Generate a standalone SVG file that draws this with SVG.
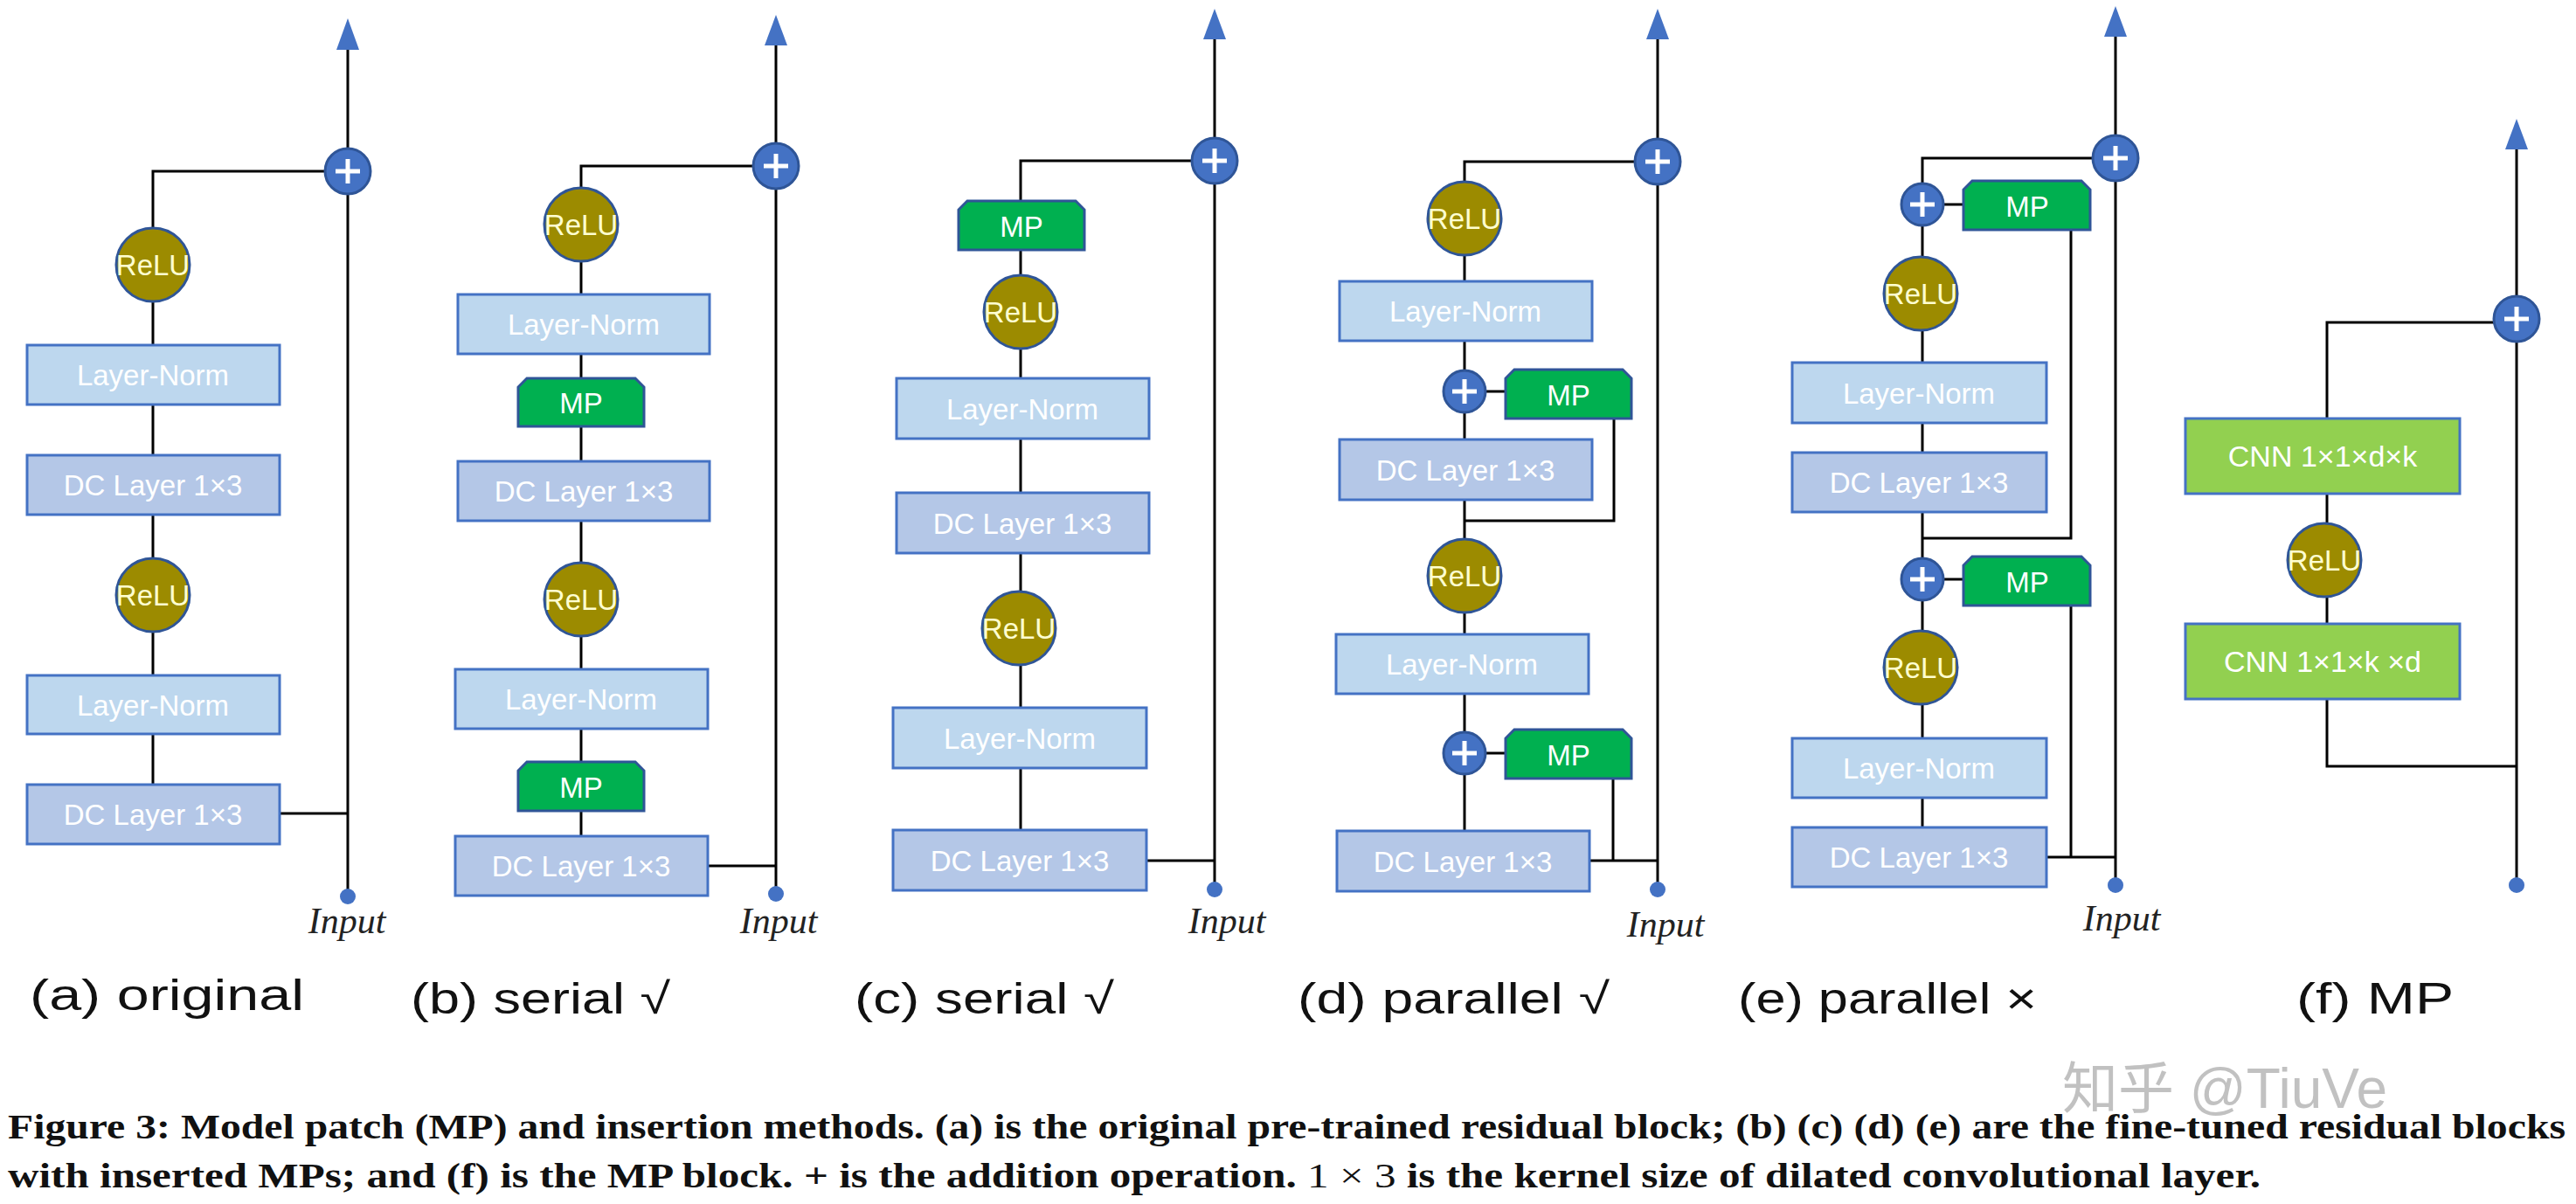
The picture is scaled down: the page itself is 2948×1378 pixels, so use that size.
<svg xmlns="http://www.w3.org/2000/svg" width="2948" height="1378" viewBox="0 0 2948 1378">
<style>
.ln{fill:#BDD7EE;stroke:#4472C4;stroke-width:3}
.dc{fill:#B4C7E7;stroke:#4472C4;stroke-width:3}
.cnn{fill:#92D050;stroke:#4472C4;stroke-width:3}
.mp{fill:#00B050;stroke:#2F5597;stroke-width:3}
.relu{fill:#9C8B00;stroke:#2F5597;stroke-width:3}
.plus{fill:#4472C4;stroke:#2F5597;stroke-width:3}
.pl{stroke:#fff;stroke-width:5;fill:none}
.w{stroke:#000;stroke-width:3;fill:none}
.ah{fill:#4472C4}
.t{font-family:"Liberation Sans",Arial,sans-serif;font-size:33px;fill:#fff;text-anchor:middle;dominant-baseline:central}
.rt{font-family:"Liberation Sans",Arial,sans-serif;font-size:33px;fill:#FFFFD0;text-anchor:middle;dominant-baseline:central}
.in{font-family:"Liberation Serif",serif;font-style:italic;font-size:42px;fill:#222;text-anchor:middle}
.sub{font-family:"Liberation Sans",sans-serif;font-size:50px;fill:#111}
.cap{font-family:"Liberation Serif",serif;font-weight:bold;font-size:40px;fill:#111}
</style>
<defs>
<g id="pg"><line class="pl" x1="-14" y1="0" x2="14" y2="0"/><line class="pl" x1="0" y1="-14" x2="0" y2="14"/></g>
</defs>
<g id="connectors">
<line class="w" x1="398" y1="1026" x2="398" y2="55"/><polyline class="w" points="175,898 175,196 398,196"/><line class="w" x1="320" y1="931" x2="398" y2="931"/>
<polygon class="ah" points="398,21 385,57 411,57"/><circle class="ah" cx="398" cy="1026" r="9"/>
<line class="w" x1="888" y1="1023" x2="888" y2="50"/><polyline class="w" points="665,957 665,190 888,190"/><line class="w" x1="810" y1="991" x2="888" y2="991"/>
<polygon class="ah" points="888,17 875,52 901,52"/><circle class="ah" cx="888" cy="1023" r="9"/>
<line class="w" x1="1390" y1="1018" x2="1390" y2="43"/><polyline class="w" points="1168,950 1168,184 1390,184"/><line class="w" x1="1312" y1="985" x2="1390" y2="985"/>
<polygon class="ah" points="1390,10 1377,45 1403,45"/><circle class="ah" cx="1390" cy="1018" r="9"/>
<line class="w" x1="1897" y1="1018" x2="1897" y2="43"/><polyline class="w" points="1676,951 1676,185 1897,185"/><line class="w" x1="1819" y1="985" x2="1897" y2="985"/>
<line class="w" x1="1676" y1="448" x2="1723" y2="448"/><polyline class="w" points="1847,479 1847,596 1676,596"/>
<line class="w" x1="1676" y1="862" x2="1723" y2="862"/><polyline class="w" points="1846,891 1846,985"/>
<polygon class="ah" points="1897,10 1884,45 1910,45"/><circle class="ah" cx="1897" cy="1018" r="9"/>
<line class="w" x1="2421" y1="1013" x2="2421" y2="40"/><polyline class="w" points="2200,947 2200,181 2421,181"/><line class="w" x1="2342" y1="981" x2="2421" y2="981"/>
<line class="w" x1="2200" y1="234" x2="2247" y2="234"/><polyline class="w" points="2370,263 2370,616 2200,616"/>
<line class="w" x1="2200" y1="663" x2="2247" y2="663"/><polyline class="w" points="2370,693 2370,981"/>
<polygon class="ah" points="2421,7 2408,42 2434,42"/><circle class="ah" cx="2421" cy="1013" r="9"/>
<line class="w" x1="2880" y1="1013" x2="2880" y2="169"/><polyline class="w" points="2663,479 2663,369 2880,369"/><polyline class="w" points="2663,800 2663,877 2880,877"/><line class="w" x1="2663" y1="565" x2="2663" y2="714"/>
<polygon class="ah" points="2880,136 2867,171 2893,171"/><circle class="ah" cx="2880" cy="1013" r="9"/>
</g>
<g id="a-plus"><circle class="plus" cx="398" cy="196" r="26"/><use href="#pg" x="398" y="196"/></g>
<g id="a-relu1"><circle class="relu" cx="175" cy="303" r="42"/><text class="rt" x="175" y="303">ReLU</text></g>
<g id="a-ln1"><rect class="ln" x="31" y="395" width="289" height="68"/><text class="t" x="175" y="429">Layer-Norm</text></g>
<g id="a-dc1"><rect class="dc" x="31" y="521" width="289" height="68"/><text class="t" x="175" y="555">DC Layer 1×3</text></g>
<g id="a-relu2"><circle class="relu" cx="175" cy="681" r="42"/><text class="rt" x="175" y="681">ReLU</text></g>
<g id="a-ln2"><rect class="ln" x="31" y="773" width="289" height="67"/><text class="t" x="175" y="807">Layer-Norm</text></g>
<g id="a-dc2"><rect class="dc" x="31" y="898" width="289" height="68"/><text class="t" x="175" y="932">DC Layer 1×3</text></g>
<g id="a-in"><text class="in" x="397" y="1068">Input</text></g>
<g id="b-plus"><circle class="plus" cx="888" cy="190" r="26"/><use href="#pg" x="888" y="190"/></g>
<g id="b-relu1"><circle class="relu" cx="665" cy="257" r="42"/><text class="rt" x="665" y="257">ReLU</text></g>
<g id="b-ln1"><rect class="ln" x="524" y="337" width="288" height="68"/><text class="t" x="668" y="371">Layer-Norm</text></g>
<g id="b-mp1"><path class="mp" d="M593,488 L593,443 L603,433 L727,433 L737,443 L737,488 Z"/><text class="t" x="665" y="461">MP</text></g>
<g id="b-dc1"><rect class="dc" x="524" y="528" width="288" height="68"/><text class="t" x="668" y="562">DC Layer 1×3</text></g>
<g id="b-relu2"><circle class="relu" cx="665" cy="686" r="42"/><text class="rt" x="665" y="686">ReLU</text></g>
<g id="b-ln2"><rect class="ln" x="521" y="766" width="289" height="68"/><text class="t" x="665" y="800">Layer-Norm</text></g>
<g id="b-mp2"><path class="mp" d="M593,928 L593,882 L603,872 L727,872 L737,882 L737,928 Z"/><text class="t" x="665" y="901">MP</text></g>
<g id="b-dc2"><rect class="dc" x="521" y="957" width="289" height="68"/><text class="t" x="665" y="991">DC Layer 1×3</text></g>
<g id="b-in"><text class="in" x="891" y="1068">Input</text></g>
<g id="c-plus"><circle class="plus" cx="1390" cy="184" r="26"/><use href="#pg" x="1390" y="184"/></g>
<g id="c-mp"><path class="mp" d="M1097,286 L1097,240 L1107,230 L1231,230 L1241,240 L1241,286 Z"/><text class="t" x="1169" y="259">MP</text></g>
<g id="c-relu1"><circle class="relu" cx="1168" cy="357" r="42"/><text class="rt" x="1168" y="357">ReLU</text></g>
<g id="c-ln1"><rect class="ln" x="1026" y="433" width="289" height="69"/><text class="t" x="1170" y="468">Layer-Norm</text></g>
<g id="c-dc1"><rect class="dc" x="1026" y="564" width="289" height="69"/><text class="t" x="1170" y="599">DC Layer 1×3</text></g>
<g id="c-relu2"><circle class="relu" cx="1166" cy="719" r="42"/><text class="rt" x="1166" y="719">ReLU</text></g>
<g id="c-ln2"><rect class="ln" x="1022" y="810" width="290" height="69"/><text class="t" x="1167" y="845">Layer-Norm</text></g>
<g id="c-dc2"><rect class="dc" x="1022" y="950" width="290" height="69"/><text class="t" x="1167" y="985">DC Layer 1×3</text></g>
<g id="c-in"><text class="in" x="1404" y="1068">Input</text></g>
<g id="d-plus"><circle class="plus" cx="1897" cy="185" r="26"/><use href="#pg" x="1897" y="185"/></g>
<g id="d-relu1"><circle class="relu" cx="1676" cy="250" r="42"/><text class="rt" x="1676" y="250">ReLU</text></g>
<g id="d-ln1"><rect class="ln" x="1533" y="322" width="289" height="68"/><text class="t" x="1677" y="356">Layer-Norm</text></g>
<g id="d-splus1"><circle class="plus" cx="1676" cy="448" r="24"/><use href="#pg" x="1676" y="448"/></g>
<g id="d-mp1"><path class="mp" d="M1723,479 L1723,433 L1733,423 L1857,423 L1867,433 L1867,479 Z"/><text class="t" x="1795" y="452">MP</text></g>
<g id="d-dc1"><rect class="dc" x="1533" y="503" width="289" height="69"/><text class="t" x="1677" y="538">DC Layer 1×3</text></g>
<g id="d-relu2"><circle class="relu" cx="1676" cy="659" r="42"/><text class="rt" x="1676" y="659">ReLU</text></g>
<g id="d-ln2"><rect class="ln" x="1529" y="726" width="289" height="68"/><text class="t" x="1673" y="760">Layer-Norm</text></g>
<g id="d-splus2"><circle class="plus" cx="1676" cy="862" r="24"/><use href="#pg" x="1676" y="862"/></g>
<g id="d-mp2"><path class="mp" d="M1723,891 L1723,845 L1733,835 L1857,835 L1867,845 L1867,891 Z"/><text class="t" x="1795" y="864">MP</text></g>
<g id="d-dc2"><rect class="dc" x="1530" y="951" width="289" height="69"/><text class="t" x="1674" y="986">DC Layer 1×3</text></g>
<g id="d-in"><text class="in" x="1906" y="1072">Input</text></g>
<g id="e-plus"><circle class="plus" cx="2421" cy="181" r="26"/><use href="#pg" x="2421" y="181"/></g>
<g id="e-splus1"><circle class="plus" cx="2200" cy="234" r="24"/><use href="#pg" x="2200" y="234"/></g>
<g id="e-mp1"><path class="mp" d="M2247,263 L2247,217 L2257,207 L2382,207 L2392,217 L2392,263 Z"/><text class="t" x="2320" y="236">MP</text></g>
<g id="e-relu1"><circle class="relu" cx="2198" cy="336" r="42"/><text class="rt" x="2198" y="336">ReLU</text></g>
<g id="e-ln1"><rect class="ln" x="2051" y="415" width="291" height="69"/><text class="t" x="2196" y="450">Layer-Norm</text></g>
<g id="e-dc1"><rect class="dc" x="2051" y="518" width="291" height="68"/><text class="t" x="2196" y="552">DC Layer 1×3</text></g>
<g id="e-splus2"><circle class="plus" cx="2200" cy="663" r="24"/><use href="#pg" x="2200" y="663"/></g>
<g id="e-mp2"><path class="mp" d="M2247,693 L2247,647 L2257,637 L2382,637 L2392,647 L2392,693 Z"/><text class="t" x="2320" y="666">MP</text></g>
<g id="e-relu2"><circle class="relu" cx="2198" cy="764" r="42"/><text class="rt" x="2198" y="764">ReLU</text></g>
<g id="e-ln2"><rect class="ln" x="2051" y="845" width="291" height="68"/><text class="t" x="2196" y="879">Layer-Norm</text></g>
<g id="e-dc2"><rect class="dc" x="2051" y="947" width="291" height="68"/><text class="t" x="2196" y="981">DC Layer 1×3</text></g>
<g id="e-in"><text class="in" x="2428" y="1065">Input</text></g>
<g id="f-plus"><circle class="plus" cx="2880" cy="365" r="26"/><use href="#pg" x="2880" y="365"/></g>
<g id="f-cnn1"><rect class="cnn" x="2501" y="479" width="314" height="86"/><text class="t" x="2658" y="522" style="font-size:34px">CNN 1×1×d×k</text></g>
<g id="f-relu"><circle class="relu" cx="2660" cy="641" r="42"/><text class="rt" x="2660" y="641">ReLU</text></g>
<g id="f-cnn2"><rect class="cnn" x="2501" y="714" width="314" height="86"/><text class="t" x="2658" y="757" style="font-size:34px">CNN 1×1×k ×d</text></g>
<g id="labels">
<text class="sub" x="34" y="1156" textLength="314" lengthAdjust="spacingAndGlyphs">(a) original</text>
<text class="sub" x="470" y="1160" textLength="297" lengthAdjust="spacingAndGlyphs">(b) serial √</text>
<text class="sub" x="978" y="1160" textLength="297" lengthAdjust="spacingAndGlyphs">(c) serial √</text>
<text class="sub" x="1485" y="1160" textLength="357" lengthAdjust="spacingAndGlyphs">(d) parallel √</text>
<text class="sub" x="1989" y="1160" textLength="342" lengthAdjust="spacingAndGlyphs">(e) parallel ×</text>
<text class="sub" x="2628" y="1160" textLength="180" lengthAdjust="spacingAndGlyphs">(f) MP</text>
</g>
<text x="2360" y="1268" style="font-family:'Liberation Sans','Noto Sans CJK SC',sans-serif;font-size:64px;fill:#999;opacity:0.6">知乎 @TiuVe</text>
<g id="caption">
<text class="cap" x="9" y="1303" textLength="2927" lengthAdjust="spacingAndGlyphs">Figure 3: Model patch (MP) and insertion methods. (a) is the original pre-trained residual block; (b) (c) (d) (e) are the fine-tuned residual blocks</text>
<text class="cap" x="9" y="1359" textLength="2578" lengthAdjust="spacingAndGlyphs">with inserted MPs; and (f) is the MP block. + is the addition operation. <tspan font-weight="normal">1 × 3</tspan> is the kernel size of dilated convolutional layer.</text>
</g>
</svg>
